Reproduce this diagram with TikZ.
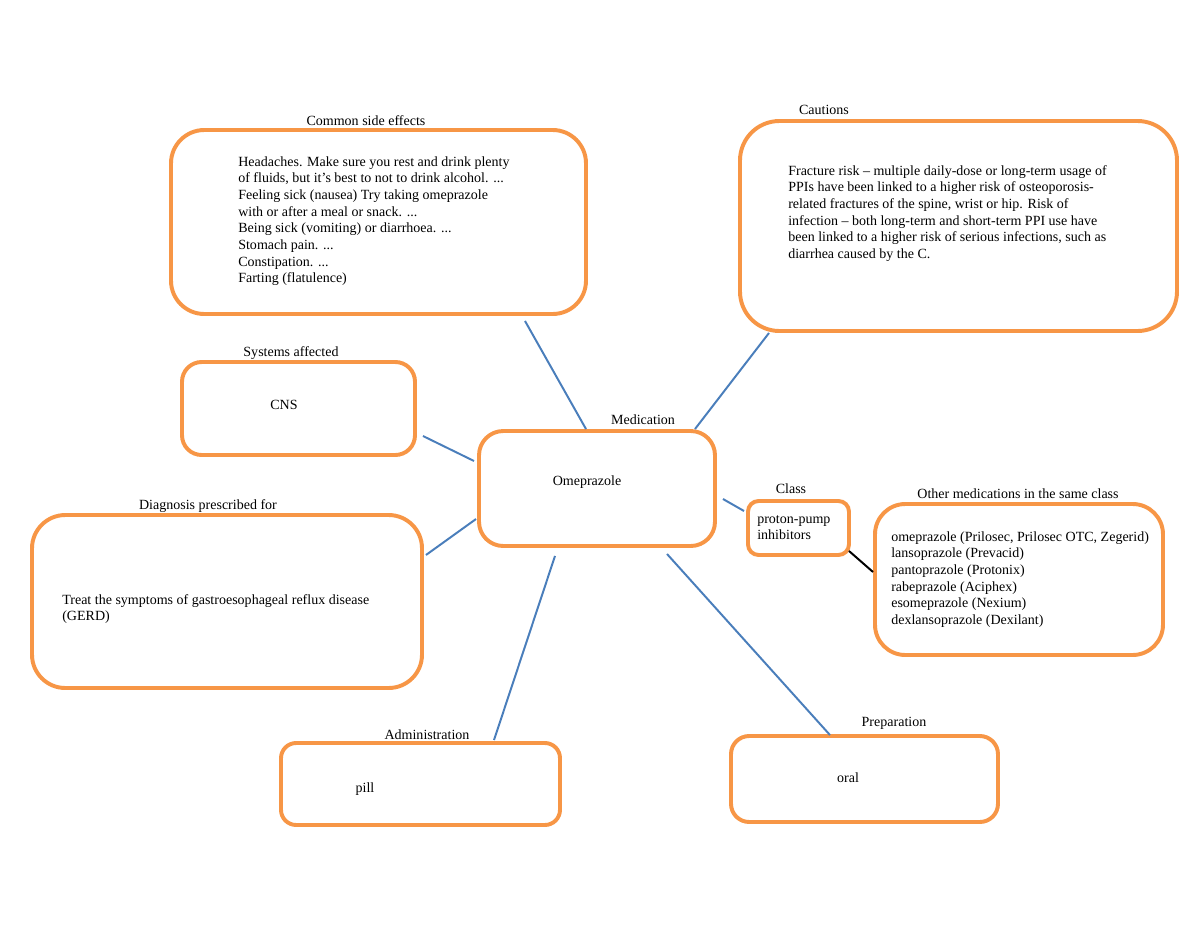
\documentclass[tikz,border=0pt]{standalone}
\usepackage{fontspec}
\setmainfont{Liberation Serif}
\usepackage{tikz}
\usetikzlibrary{positioning}
\definecolor{mapOrange}{RGB}{247,150,70}
\definecolor{mapBlue}{RGB}{74,126,187}
\newdimen\upx \upx=0.66pt

\tikzset{
  topic/.style={draw=mapOrange,line width=2.6pt,fill=white,inner sep=0pt},
  body/.style={anchor=north west,align=left,inner sep=0pt},
  heading/.style={inner sep=0pt},
  link/.style={draw=mapBlue,line width=1.3pt},
}

\begin{document}
\begin{tikzpicture}[x=\upx,y=-\upx,font=\fontsize{9.25}{11}\selectfont]
    \useasboundingbox (0,0) rectangle (1200,927);
    % Boxes of the concept map
    \node[topic,rounded corners=22pt,minimum width=415\upx,minimum height=184\upx] (side) at (378.5,222) {};
    \node[topic,rounded corners=26pt,minimum width=437\upx,minimum height=210\upx] (caution) at (958.5,226) {};
    \node[topic,rounded corners=13pt,minimum width=233\upx,minimum height=93\upx] (system) at (298.5,408.5) {};
    \node[topic,rounded corners=16pt,minimum width=236\upx,minimum height=115\upx] (med) at (597,488.5) {};
    \node[topic,rounded corners=22pt,minimum width=390\upx,minimum height=173\upx] (diag) at (227,601.5) {};
    \node[topic,rounded corners=7pt,minimum width=101\upx,minimum height=54\upx] (class) at (798.5,528) {};
    \node[topic,rounded corners=20pt,minimum width=288\upx,minimum height=151\upx] (other) at (1019,579.5) {};
    \node[topic,rounded corners=10pt,minimum width=279\upx,minimum height=82\upx] (admin) at (420.5,784) {};
    \node[topic,rounded corners=12pt,minimum width=267\upx,minimum height=86\upx] (prep) at (864.5,779) {};

    % Headings above the boxes
    \node[heading] (sideHead) at (366,121) {Common side effects};
    \node[heading] (cautionHead) at (824,110) {Cautions};
    \node[heading] (systemHead) at (291,353) {Systems affected};
    \node[heading] (medHead) at (643,420) {Medication};
    \node[heading] (diagHead) at (208,506) {Diagnosis prescribed for};
    \node[heading] (classHead) at (791,489) {Class};
    \node[heading] (otherHead) at (1018,494) {Other medications in the same class};
    \node[heading] (adminHead) at (427,735) {Administration};
    \node[heading] (prepHead) at (894,723) {Preparation};

    % Box texts
    \node[body] (sideText) at (238,156) {Headaches. Make sure you rest and drink plenty\\
      of fluids, but it's best to not to drink alcohol. ...\\
      Feeling sick (nausea) Try taking omeprazole\\
      with or after a meal or snack. ...\\
      Being sick (vomiting) or diarrhoea. ...\\
      Stomach pain. ...\\
      Constipation. ...\\
      Farting (flatulence)};
    \node[body] (cautionText) at (788,165) {Fracture risk – multiple daily-dose or long-term usage of\\
      PPIs have been linked to a higher risk of osteoporosis-\\
      related fractures of the spine, wrist or hip. Risk of\\
      infection – both long-term and short-term PPI use have\\
      been linked to a higher risk of serious infections, such as\\
      diarrhea caused by the C.};
    \node[heading] (systemText) at (284,405) {CNS};
    \node[heading] (medText) at (587,482) {Omeprazole};
    \node[body] (diagText) at (62,594) {Treat the symptoms of gastroesophageal reflux disease\\(GERD)};
    \node[body] (classText) at (757,515) {proton-pump\\inhibitors};
    \node[body] (otherText) at (891,531) {omeprazole (Prilosec, Prilosec OTC, Zegerid)\\
      lansoprazole (Prevacid)\\
      pantoprazole (Protonix)\\
      rabeprazole (Aciphex)\\
      esomeprazole (Nexium)\\
      dexlansoprazole (Dexilant)};
    \node[heading] (adminText) at (365,789) {pill};
    \node[heading] (prepText) at (848,778) {oral};

    % Connectors
    \draw[link] ([xshift=146.5\upx,yshift=-5\upx]side.south) -- ([xshift=-11\upx]med.north);
    \draw[link] ([xshift=-189.5\upx]caution.south) -- ([xshift=98\upx]med.north);
    \draw[link] ([xshift=6\upx,yshift=-27.5\upx]system.east) -- ([xshift=-3\upx,yshift=27.5\upx]med.west);
    \draw[link] ([xshift=2\upx,yshift=46.5\upx]diag.east) -- ([xshift=-1\upx,yshift=-30.5\upx]med.west);
    \draw[link] ([xshift=6\upx,yshift=-10.5\upx]med.east) -- ([xshift=-2\upx,yshift=17\upx]class.west);
    \draw[link] ([xshift=-42\upx,yshift=-8\upx]med.south) -- ([xshift=73.5\upx,yshift=1\upx]admin.north);
    \draw[link] ([xshift=70\upx,yshift=-6\upx]med.south) -- ([xshift=-34.5\upx,yshift=-1\upx]prep.north);
    \draw[line width=1.3pt] ([xshift=-2\upx,yshift=6\upx]class.south east) -- ([yshift=7.5\upx]other.west);
\end{tikzpicture}
\end{document}
